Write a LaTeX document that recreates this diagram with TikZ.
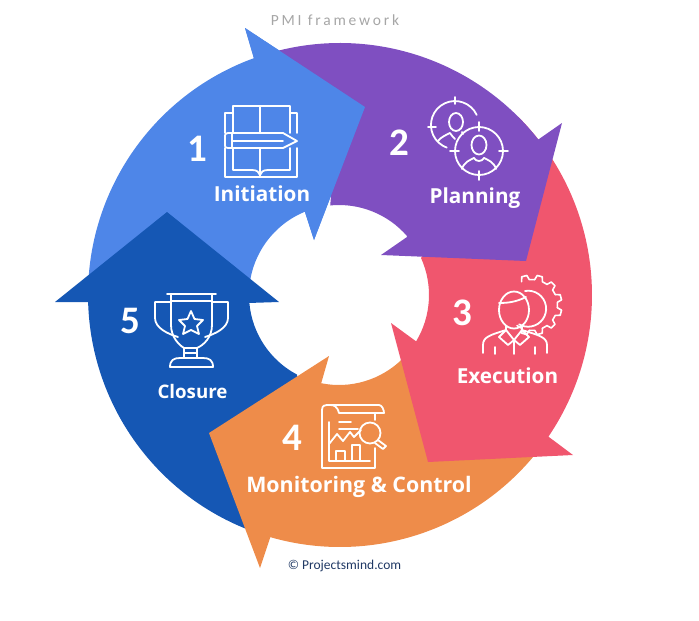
\documentclass[tikz,border=0pt]{standalone}
\usepackage{fontspec}
\setmainfont{Carlito}
\newfontfamily\labfont{Open Sans}
\begin{document}
\begin{tikzpicture}[x=1pt,y=1pt,yscale=-1,
  num/.style={text=white,font=\fontsize{39}{39}\selectfont\bfseries,inner sep=0pt},
  lab/.style={text=white,font=\labfont\fontsize{20.7}{22}\selectfont\bfseries,inner sep=0pt},
  ico/.style={draw=white,line width=1.8pt,line join=round,line cap=round}]
\definecolor{cblue}{HTML}{4E86E8}
\definecolor{cpurple}{HTML}{7F4FC1}
\definecolor{cred}{HTML}{F0566E}
\definecolor{corange}{HTML}{EE8C4A}
\definecolor{cdark}{HTML}{1557B4}
\def\oo#1{([shift={(340,295)}]#1:252)}
\def\ii#1{([shift={(339,295)}]#1:90)}
\useasboundingbox (0,0) rectangle (699,621);
% light blue arrow
\fill[cblue] \oo{-110} arc[start angle=-110,end angle=-181,radius=252]
  -- \ii{-175} arc[start angle=-175,end angle=-112.3,radius=90]
  -- (314,240) -- (365,107) -- (245,28) -- cycle;
% dark blue arrow
\fill[cdark] (167,212) -- (279,302) -- (248,303) -- \ii{175} arc[start angle=175,end angle=117.7,radius=90]
  -- (300,450) -- \oo{108} arc[start angle=108,end angle=178.4,radius=252] -- (55,302) -- cycle;
% orange arrow
\fill[corange] (329,356) -- (209,433) -- (260,568) -- (270,538) -- \oo{106.1} arc[start angle=106.1,end angle=40,radius=252]
  -- \ii{45} arc[start angle=45,end angle=101.4,radius=90] -- cycle;
% red arrow
\fill[cred] \oo{-45} arc[start angle=-45,end angle=34.2,radius=252] -- (573,455) -- (428,462) -- (391,323) -- (417,342)
  -- \ii{31.1} arc[start angle=31.1,end angle=-24.3,radius=90] -- cycle;
% purple arrow
\fill[cpurple] \oo{-106} arc[start angle=-106,end angle=-38.1,radius=252] -- (562,123) -- (526,261) -- (381,255) -- (407,237)
  -- \ii{-41} arc[start angle=-41,end angle=-95.6,radius=90] -- (335,150) -- cycle;
% head of the light blue arrow, over the purple
\fill[cblue] (245,28) -- (365,107) -- (314,240) -- (305,212) -- (254,58) -- cycle;
% book icon
\draw[ico] (225,133) -- (225,113) -- (233,113) (233,133) -- (233,106) -- (290,106) -- (290,133) (290,113) -- (297,113) -- (297,133);
\draw[ico] (260,106) -- (260,133) (260,148) -- (260,177);
\draw[ico] (225,148) -- (225,177) -- (297,177) -- (297,148);
\draw[ico] (233,148) -- (233,170) -- (252,170) .. controls (257,170) and (259,172) .. (260,175) .. controls (261,172) and (263,170) .. (268,170) -- (290,170) -- (290,148);
\draw[ico] (228,133) -- (283,133) -- (297,141) -- (283,148) -- (228,148) .. controls (224,148) and (225,145) .. (225,141) .. controls (225,137) and (224,133) .. (228,133) -- cycle;
\draw[ico] (232,133) -- (232,148) (232,141) -- (283,141);
% planning icon
\draw[ico] (479,151) circle[radius=24];
\draw[ico] (479,122) -- (479,131) (479,171) -- (479,180) (450,151) -- (459,151) (499,151) -- (508,151);
\draw[ico] (479,145) ellipse[x radius=7.5,y radius=9.5];
\draw[ico] (462,169) .. controls (464,162) and (470,160) .. (474,158) (484,158) .. controls (488,160) and (494,162) .. (496,169);
\draw[ico] (474,158) .. controls (476,162) and (482,162) .. (484,158);
\draw[ico] (476.7,114.9) arc[start angle=-25,end angle=-250,radius=24];
\draw[ico] (455,97) -- (455,104) (428,127) -- (436,127);
\draw[ico] (456,122) ellipse[x radius=7,y radius=9];
\draw[ico] (438,141) .. controls (441,137) and (446,135) .. (450,133) .. controls (452,136) and (453,137) .. (455,139) (462,132) -- (463,134);
% execution icon
\foreach \a in {-105,-75,...,105}{
  \draw[ico,line width=1.6pt] ([shift={(532,305)}]\a-9:25.5) -- ([shift={(532,305)}]\a-5:30) -- ([shift={(532,305)}]\a+5:30) -- ([shift={(532,305)}]\a+9:25.5) -- ([shift={(532,305)}]\a+21:25.5);
}
\draw[ico] (525,291) arc[start angle=-100,end angle=120,radius=18];
\draw[ico] (514,310) ellipse[x radius=15,y radius=18.5];
\draw[ico] (499,303) .. controls (508,303) and (516,302) .. (526,297);
\draw[ico] (483,353) -- (483,345) .. controls (483,337) and (490,335) .. (506,330) -- (514,340) -- (522,330) .. controls (538,335) and (547,337) .. (547,345) -- (547,353);
\draw[ico] (506,330) -- (506,326) (522,330) -- (522,326) (506,330) -- (499,337) -- (508,345) -- (514,340) -- (520,345) -- (529,337) -- (522,330);
\draw[ico] (514,340) -- (514,354) (495,347) -- (495,354) (535,347) -- (535,354);
% report icon
\draw[ico] (375,448) -- (375,468) -- (322,468) -- (322,410) .. controls (322,405) and (325,405) .. (330,405) -- (379,405) .. controls (382,405) and (384,410) .. (384,413) -- (339,413) .. controls (337,406) and (334,405) .. (330,405);
\draw[ico] (375,420) -- (375,413);
\draw[ico] (329,422) -- (329,461) -- (370,461) (339,422) -- (351,422) (339,429) -- (358,429);
\draw[ico] (329,444) -- (337,434) -- (343,441) -- (350,432) -- (354,437) -- (361,430);
\draw[ico] (336,461) -- (336,451) -- (345,451) -- (345,461) (352,461) -- (352,445) -- (360,445) -- (360,461);
\draw[ico] (370,433) circle[radius=10.5];
\draw[ico] (378,440) -- (386,446) -- (383,449) -- (375,443);
% trophy icon
\draw[ico] (167,294) -- (216,294) (171,301) -- (212,301);
\draw[ico] (171,294) -- (171,325) .. controls (171,337) and (179,345) .. (184,348) -- (197,348) .. controls (204,345) and (212,337) .. (212,325) -- (212,294);
\draw[ico] (171,302) -- (155,302) -- (155,318) .. controls (155,328) and (168,334) .. (178,337);
\draw[ico] (212,302) -- (228,302) -- (228,318) .. controls (228,328) and (215,334) .. (205,337);
\draw[ico] (184,348) -- (184,358) (197,348) -- (197,358) (184,353) -- (197,353);
\draw[ico] (170,367) -- (213,367) .. controls (213,360) and (209,358) .. (203,358) -- (180,358) .. controls (174,358) and (170,360) .. (170,367) -- cycle;
\draw[ico] (191,311) -- (194.5,319) -- (203,320) -- (197,326) -- (199,334) -- (191,330) -- (183,334) -- (185,326) -- (179,320) -- (187.5,319) -- cycle;
% texts
\node[text=black!35,font=\fontsize{15.5}{16}\selectfont\addfontfeatures{LetterSpace=18},inner sep=0pt] (title) at (335,20) {PMI framework};
\node[num] (n1) at (197,149) {1};
\node[num] (n2) at (399,143) {2};
\node[num] (n3) at (462,313) {3};
\node[num] (n4) at (292,438) {4};
\node[num] (n5) at (130,321) {5};
\node[lab] (l1) at (262,194) {Initiation};
\node[lab] (l2) at (475,198) {Planning};
\node[lab] (l3) at (507.5,376) {Execution};
\node[lab,font=\labfont\fontsize{21.4}{23}\selectfont\bfseries] (l4) at (359,487) {Monitoring \& Control};
\node[lab,font=\labfont\fontsize{18.7}{20}\selectfont\bfseries] (l5) at (192.5,391) {Closure};
\node[text={rgb,255:red,31;green,56;blue,100},font=\fontsize{13.5}{15}\selectfont,inner sep=0pt] (copy) at (344.5,566) {© Projectsmind.com};
\end{tikzpicture}
\end{document}
